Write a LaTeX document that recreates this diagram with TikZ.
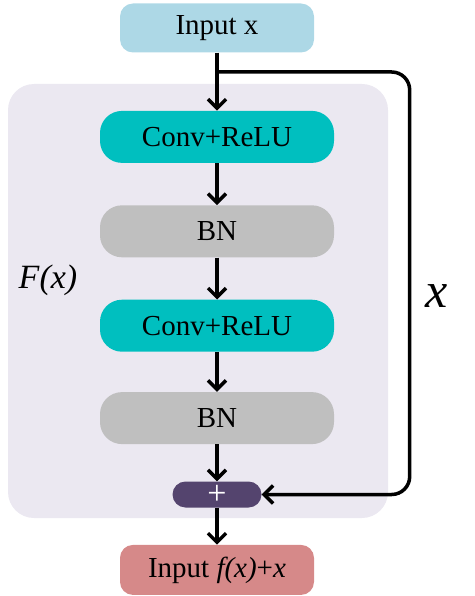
\documentclass[tikz,border=0pt]{standalone}
\usepackage{fontspec}
\setmainfont{Liberation Serif}
\usetikzlibrary{positioning,arrows.meta}

\definecolor{inblue}{RGB}{173,216,230}
\definecolor{convteal}{RGB}{0,191,191}
\definecolor{bngray}{RGB}{191,191,191}
\definecolor{bgpanel}{RGB}{235,232,241}
\definecolor{addpurple}{RGB}{84,68,110}
\definecolor{outrose}{RGB}{214,137,137}

\begin{document}
\begin{tikzpicture}[
            x=1pt, y=1pt,
            layer/.style={rounded corners=22pt, minimum width=234pt, minimum height=52pt,
                font=\fontsize{29}{34}\selectfont, inner sep=0pt},
            conv/.style={layer, fill=convteal},
            bnbox/.style={layer, fill=bngray},
            iobox/.style={layer, rounded corners=13pt, minimum width=194pt, minimum height=49pt},
            flow/.style={line width=3.5pt, -{Straight Barb[length=9pt,width=18pt]}},
        ]
        \useasboundingbox (0,0) rectangle (474,-596);
        % panel behind F(x)
        \fill[bgpanel, rounded corners=26pt] (8,-84) rectangle (388,-518);

        \node[iobox, fill=inblue] (input) at (217,-28) {Input x};
        \node[conv, below=58pt of input.south, anchor=north] (conv1) {Conv+ReLU};
        \node[bnbox, below=42pt of conv1] (bn1) {BN};
        \node[conv, below=42pt of bn1] (conv2) {Conv+ReLU};
        \node[bnbox, below=40pt of conv2] (bn2) {BN};
        \node[layer, fill=addpurple, text=white, minimum width=89pt, minimum height=26pt,
            rounded corners=13pt, font=\fontsize{34}{34}\selectfont, below=37pt of bn2] (plus) {+};
        \node[iobox, fill=outrose, minimum height=50pt, below=37pt of plus] (output)
            {Input \textit{f(x)}+\textit{x}};

        \node[font=\fontsize{34}{38}\selectfont\itshape] (fx) at (48,-280) {F(x)};
        \node[font=\fontsize{50}{54}\selectfont\itshape] (xlabel) at (437,-296) {x};

        \coordinate (split) at (input.south |- 0,-72);
        \draw[flow] (input) -- (conv1);
        \draw[flow] (conv1) -- (bn1);
        \draw[flow] (bn1) -- (conv2);
        \draw[flow] (conv2) -- (bn2);
        \draw[flow] (bn2) -- (plus);
        \draw[flow] (plus) -- (output);
        % identity shortcut
        \draw[flow, rounded corners=18pt] (split) -| ([xshift=148pt]plus.east) -- (plus.east);
    \end{tikzpicture}
\end{document}
